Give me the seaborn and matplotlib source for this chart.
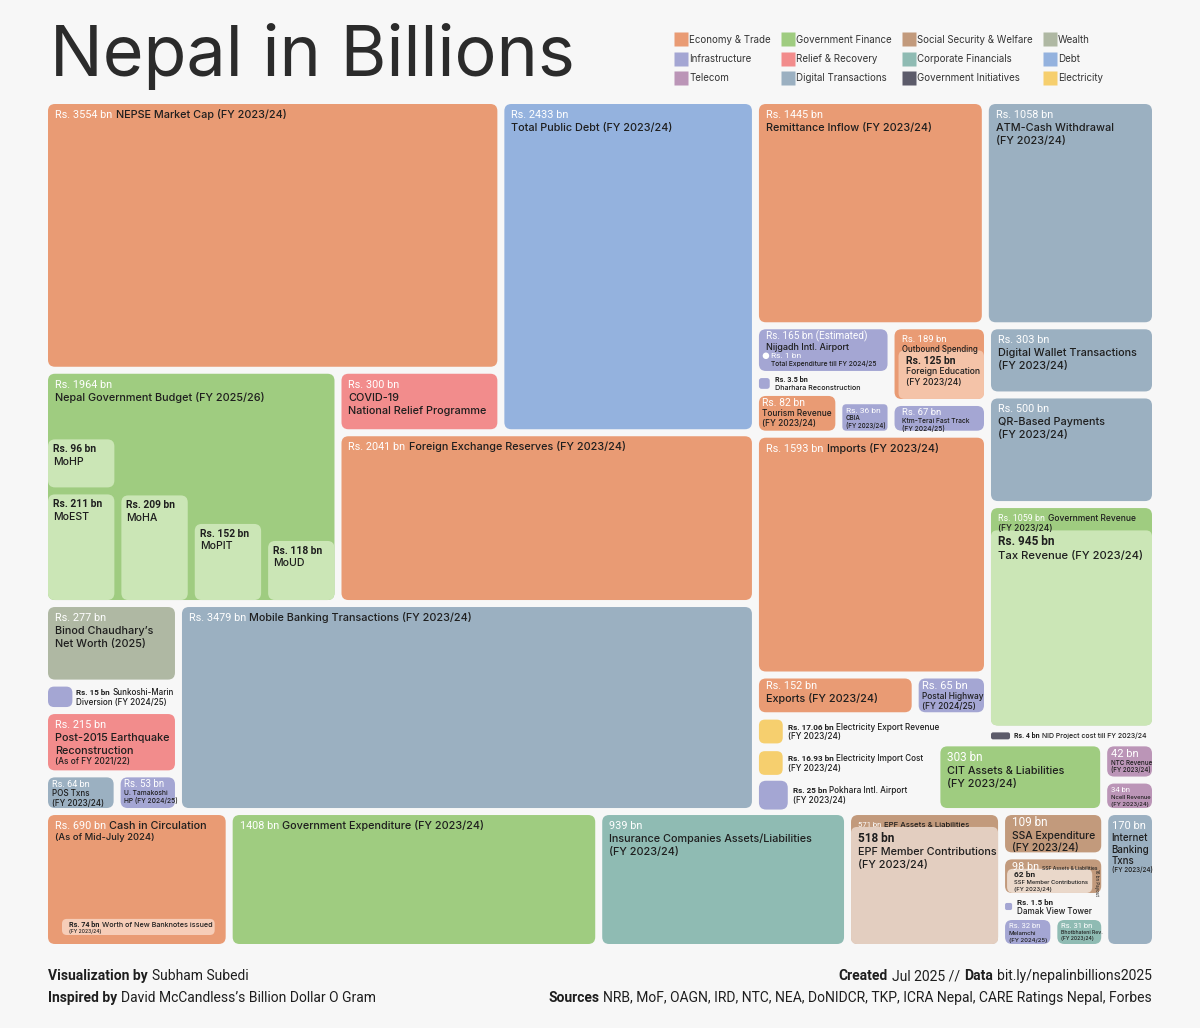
import numpy as np
import matplotlib
matplotlib.use("Agg")
import matplotlib.pyplot as plt
import seaborn as sns
from matplotlib.patches import FancyBboxPatch, Circle
from matplotlib.lines import Line2D

sns.set_theme(style="white")
plt.rcParams['font.family'] = ['Inter', 'DejaVu Sans']

# ---------------- data ----------------
categories = ["Economy & Trade", "Government Finance", "Social Security & Welfare", "Wealth",
              "Infrastructure", "Relief & Recovery", "Corporate Financials", "Debt",
              "Telecom", "Digital Transactions", "Government Initiatives", "Electricity"]

keys = ["nepse", "debt", "remit", "atm", "budget", "covid", "fx", "imports",
        "nijgadh", "outbound", "tourism", "cbia", "ktm", "dharhara",
        "wallet", "qr", "govrev", "nid", "binod", "sunkoshi", "post2015", "pos", "utama",
        "mobile", "exports", "postal", "elecexp", "elecimp", "pokhara", "cit", "ntc", "ncell",
        "cash", "govexp", "insurance", "epf", "ssa", "ssf", "damak", "melamchi", "bhot", "intbank"]
values = [3554, 2433, 1445, 1058, 1964, 300, 2041, 1593,
          165, 189, 82, 36, 67, 3.5,
          303, 500, 1059, 4, 277, 15, 215, 64, 53,
          3479, 152, 65, 17.06, 16.93, 25, 303, 42, 34,
          690, 1408, 939, 571, 109, 98, 1.5, 32, 31, 170]
value_labels = ["Rs. 3554 bn", "Rs. 2433 bn", "Rs. 1445 bn", "Rs. 1058 bn", "Rs. 1964 bn", "Rs. 300 bn",
                "Rs. 2041 bn", "Rs. 1593 bn",
                "Rs. 165 bn (Estimated)", "Rs. 189 bn", "Rs. 82 bn", "Rs. 36 bn", "Rs. 67 bn", "Rs. 3.5 bn",
                "Rs. 303 bn", "Rs. 500 bn", "Rs. 1059 bn", "Rs. 4 bn", "Rs. 277 bn", "Rs. 15 bn", "Rs. 215 bn",
                "Rs. 64 bn", "Rs. 53 bn",
                "Rs. 3479 bn", "Rs. 152 bn", "Rs. 65 bn", "Rs. 17.06 bn", "Rs. 16.93 bn", "Rs. 25 bn",
                "303 bn", "42 bn", "34 bn",
                "Rs. 690 bn", "1408 bn", "939 bn", "571 bn", "109 bn", "98 bn", "Rs. 1.5 bn", "Rs. 32 bn",
                "Rs. 31 bn", "170 bn"]
names = ["NEPSE Market Cap (FY 2023/24)", "Total Public Debt (FY 2023/24)", "Remittance Inflow (FY 2023/24)",
         "ATM-Cash Withdrawal\n(FY 2023/24)", "Nepal Government Budget (FY 2025/26)",
         "COVID-19\nNational Relief Programme",
         "Foreign Exchange Reserves (FY 2023/24)", "Imports (FY 2023/24)",
         "Nijgadh Intl. Airport", "Outbound Spending", "Tourism Revenue\n(FY 2023/24)", "CBIA\n(FY 2023/24)",
         "Ktm-Terai Fast Track\n(FY 2024/25)", "\nDharhara Reconstruction",
         "Digital Wallet Transactions\n(FY 2023/24)", "QR-Based Payments\n(FY 2023/24)",
         "Government Revenue\n(FY 2023/24)",
         "NID Project cost till FY 2023/24", "Binod Chaudhary\u2019s\nNet Worth (2025)",
         "Sunkoshi-Marin\nDiversion (FY 2024/25)",
         "Post-2015 Earthquake\nReconstruction\n(As of FY 2021/22)", "POS Txns\n(FY 2023/24)",
         "U. Tamakoshi\nHP (FY 2024/25)",
         "Mobile Banking Transactions (FY 2023/24)", "Exports (FY 2023/24)", "Postal Highway\n(FY 2024/25)",
         "Electricity Export Revenue\n(FY 2023/24)", "Electricity Import Cost\n(FY 2023/24)",
         "Pokhara Intl. Airport\n(FY 2023/24)",
         "CIT Assets & Liabilities\n(FY 2023/24)", "NTC Revenue\n(FY 2023/24)", "Ncell Revenue\n(FY 2023/24)",
         "Cash in Circulation\n(As of Mid-July 2024)", "Government Expenditure (FY 2023/24)",
         "Insurance Companies Assets/Liabilities\n(FY 2023/24)", "EPF Assets & Liabilities",
         "SSA Expenditure\n(FY 2023/24)",
         "SSF Assets & Liabilities", "\nDamak View Tower", "Melamchi\n(FY 2024/25)",
         "Bhotbhateni Rev.\n(FY 2023/24)",
         "Internet\nBanking\nTxns\n(FY 2023/24)"]
item_cats = [0, 7, 0, 9, 1, 5, 0, 0,
             4, 0, 0, 4, 4, 4,
             9, 9, 1, 10, 3, 4, 5, 9, 4,
             9, 0, 4, 11, 11, 4, 1, 8, 8,
             0, 1, 6, 2, 2, 2, 4, 4, 6, 9]

# nested items (drawn inside a parent)
sub_keys = ["tax", "foreign_ed", "epf_member", "ssf_member", "banknotes"]
sub_parents = ["govrev", "outbound", "epf", "ssf", "cash"]
sub_values = [945, 125, 518, 62, 74]
sub_value_labels = ["Rs. 945 bn", "Rs. 125 bn", "518 bn", "62 bn", "Rs. 74 bn"]
sub_names = ["Tax Revenue (FY 2023/24)", "Foreign Education\n(FY 2023/24)",
             "EPF Member Contributions\n(FY 2023/24)", "SSF Member Contributions\n(FY 2023/24)",
             "Worth of New Banknotes issued\n(FY 2023/24)"]

ministries = ["MoHP", "MoEST", "MoHA", "MoPIT", "MoUD"]
ministry_values = [96, 211, 209, 152, 118]
ministry_labels = ["Rs. 96 bn", "Rs. 211 bn", "Rs. 209 bn", "Rs. 152 bn", "Rs. 118 bn"]

nijgadh_spent = 1
ssf_payout = 16

# ---------------- style ----------------
cat_colors = ['#E99B74', '#9FCC80', '#C29A7C', '#AFB8A3', '#A4A6D3', '#F28C8C',
              '#8FBBB3', '#94B2DE', '#BB95B7', '#9BB0C1', '#5C5B6A', '#F6CF6E']
light = {'govrev': '#CBE6B6', 'budget': '#CBE6B6', 'outbound': '#F4C3A8', 'epf': '#E3CEC0',
         'ssf': '#EAD8CA', 'cash': '#F6CDB8'}
BG = '#F7F7F7'
INK = '#1e1e1e'
VALCOL = '#FFFFFF'
VALFAM = ['Roboto', 'DejaVu Sans']
NAMEFAM = ['Inter', 'DejaVu Sans']
NAMEWT = 'medium'
GAP = 7.0
PX = 100 / 72

INLINE = {'nepse', 'fx', 'imports', 'mobile', 'govexp', 'cash', 'govrev', 'epf', 'ssf', 'nid'}
NOTE_FROM = {'post2015': 2, 'cash': 1, 'intbank': 3}
NOTE_SIZE = {'post2015': 6, 'cash': 6.8, 'intbank': 4.6}
SIZES = {'cit': (8.5, 7.8), 'intbank': (8, 7), 'ssa': (8.5, 7.5), 'ssf': (7.8, 3.6), 'epf': (5.6, 5.6),
         'govrev': (6.4, 6.1), 'nijgadh': (7.2, 6.5), 'outbound': (6.8, 5.7), 'tourism': (7.5, 6.0),
         'cbia': (6, 4.5), 'ktm': (6.8, 4.8), 'postal': (8, 6), 'pos': (6.6, 5.8), 'utama': (7, 4.8),
         'ntc': (8, 4.5), 'ncell': (5.5, 4.2), 'melamchi': (5.5, 4.3), 'bhot': (5.5, 3.7),
         'elecexp': (5.9, 5.9), 'elecimp': (5.9, 5.9), 'pokhara': (5.9, 5.9), 'sunkoshi': (5.8, 5.8),
         'dharhara': (5.2, 5.2), 'damak': (5.8, 5.8), 'nid': (5, 5)}
SUB_SIZES = {'tax': (8.5, 8.1), 'foreign_ed': (7.5, 6.2), 'epf_member': (8.5, 7.8),
             'ssf_member': (6.0, 4.2), 'banknotes': (5.2, 5.2)}
SUB_PAD = {'tax': (0, 0, 0), 'foreign_ed': (4, 0, 0), 'epf_member': (0, 0, 0),
           'ssf_member': (2, 9, 0), 'banknotes': (14, 11, 9)}

val = dict(zip(keys, values))
vlab = dict(zip(keys, value_labels))
nm = dict(zip(keys, names))
cat = dict(zip(keys, item_cats))


# ---------------- layout ----------------
def leaf(k, extra=0.0, fit='fill'):
    return {'leaf': k, 'extra': extra, 'fit': fit}


def empty(w):
    return {'empty': True, 'extra': w}


def grp(kind, *kids, extra=0.0):
    return {'kind': kind, 'kids': [leaf(k) if isinstance(k, str) else k for k in kids], 'extra': extra}


def weight(n):
    if 'leaf' in n:
        return val[n['leaf']] + n['extra']
    if 'empty' in n:
        return n['extra']
    return sum(weight(c) for c in n['kids']) + n['extra']


def pinwheel(x0, y0, x1, y1, w):
    A = (x1 - x0) * (y1 - y0) * w / w.sum()
    a = np.linspace(x0 + 1, x1 - 1, 40001)
    with np.errstate(divide='ignore', invalid='ignore'):
        c = y0 + A[0] / (a - x0)
        d = y0 + A[1] / (x1 - a)
        b = x1 - A[2] / (y1 - d)
        res = (b - x0) * (y1 - c) - A[3]
    ok = (c > y0) & (c < d) & (d < y1) & (b > x0) & (b < a)
    i = np.argmin(np.where(ok, np.abs(res), np.inf))
    a, b, c, d = a[i], b[i], c[i], d[i]
    raw = [(x0, y0, a, c), (a, y0, x1, d), (b, d, x1, y1), (x0, c, b, y1), (b, c, a, d)]
    h = GAP / 2
    out = []
    for p, q, r, s in raw:
        out.append((p + (h if p > x0 + 1e-6 else 0), q + (h if q > y0 + 1e-6 else 0),
                    r - (h if r < x1 - 1e-6 else 0), s - (h if s < y1 - 1e-6 else 0)))
    return out


rects = {}


def place(n, x0, y0, x1, y1):
    if 'leaf' in n:
        rects[n['leaf']] = (x0, y0, x1, y1, n['fit'])
        return
    if 'empty' in n:
        return
    kids = n['kids']
    w = np.array([weight(c) for c in kids], dtype=float)
    if n['kind'] == 'pin':
        for c, r in zip(kids, pinwheel(x0, y0, x1, y1, w)):
            place(c, *r)
        return
    horiz = n['kind'] == 'h'
    L = (x1 - x0) if horiz else (y1 - y0)
    sizes = (L - GAP * (len(kids) - 1)) * w / w.sum()
    pos = x0 if horiz else y0
    for c, s in zip(kids, sizes):
        if horiz:
            place(c, pos, y0, pos + s, y1)
        else:
            place(c, x0, pos, x1, pos + s)
        pos += s + GAP


SMALL = grp('h',
            grp('v', 'nijgadh', leaf('dharhara', 40, 'mark'),
                grp('h', 'tourism', leaf('cbia', 12.5, 'bottom'), extra=7), extra=22),
            grp('v', 'outbound', 'ktm'), extra=67)
MID = grp('v', SMALL, 'imports', grp('h', 'exports', 'postal', extra=13), extra=63)
RIGHT = grp('v', 'wallet', 'qr', 'govrev', leaf('nid', 30, 'bar'), extra=89)
CITROW = grp('h', 'cit', grp('v', 'ntc', 'ncell', extra=9), extra=21)
ELEC = grp('v', leaf('elecexp', 140, 'mark'), leaf('elecimp', 140, 'mark'), leaf('pokhara', 140, 'mark'))
MR = grp('v', grp('h', 'remit', 'atm'), grp('pin', MID, RIGHT, CITROW, ELEC, empty(40)), extra=244)
UPPER = grp('pin', 'nepse', 'debt', 'fx', 'budget', 'covid', extra=206)
LCOL = grp('v', 'binod', leaf('sunkoshi', 63, 'bar'), 'post2015', grp('h', 'pos', 'utama'), extra=88)
LEFT = grp('v', UPPER, grp('h', LCOL, 'mobile'))
SSACOL = grp('v', 'ssa', 'ssf', leaf('damak', 36.5, 'mark'), grp('h', 'melamchi', 'bhot', extra=7), extra=58.5)
BOTTOM = grp('h', 'cash', 'govexp', 'insurance', 'epf', SSACOL, 'intbank', extra=60)
ROOT = grp('v', grp('h', LEFT, MR), BOTTOM)
place(ROOT, 48, 104, 1152, 944)

nx0, ny0, nx1, ny1, _ = rects['nepse']
K = (nx1 - nx0) * (ny1 - ny0) / val['nepse']   # px^2 per bn

# ---------------- drawing ----------------
fig = plt.figure(figsize=(12, 10.28), dpi=100)
fig.patch.set_facecolor(BG)
ax = fig.add_axes([0, 0, 1, 1])
ax.set_xlim(0, 1200)
ax.set_ylim(1028, 0)
ax.axis('off')
ax.set_facecolor(BG)
rend = fig.canvas.get_renderer()


def rbox(x0, y0, x1, y1, color, rad=7, z=2):
    r = min(rad, 0.3 * min(x1 - x0, y1 - y0))
    ax.add_patch(FancyBboxPatch((x0, y0), x1 - x0, y1 - y0,
                                boxstyle=f"round,pad=0,rounding_size={r}",
                                fc=color, ec='none', zorder=z))


def draw_rich(lines, x, ytop, ha='left', lh=1.2):
    y = ytop
    for i, line in enumerate(lines):
        m = max(p[1] for p in line) * PX
        y += 0.74 * m if i == 0 else lh * m
        objs = []
        for (s, size, col, wt, fam) in line:
            t = ax.text(0, y, s, fontsize=size, color=col, fontweight=wt, family=fam,
                        va='baseline', ha='left', zorder=6)
            objs.append((t, t.get_window_extent(rend).width, size))
        gaps = [0.3 * sz * PX for (_, _, sz) in objs]
        total = sum(o[1] for o in objs) + sum(gaps[:-1])
        cx = x - total if ha == 'right' else x
        for j, (t, wd, sz) in enumerate(objs):
            t.set_x(cx)
            cx += wd + gaps[j]
    return y


def box_label(vtxt, ntxt, x0, y0, x1, y1, sizes, inline, vcol=VALCOL, vwt='normal',
              note_from=99, note_size=None):
    vs, ns = sizes
    padx = 7 if (x1 - x0) > 80 else 3.5
    pady = 6 if (y1 - y0) > 45 else 2.5
    nl = ntxt.split('\n')

    def npart(i, t):
        sz = (note_size or ns * 0.75) if i >= note_from else ns
        return (t, sz, INK, NAMEWT, NAMEFAM)
    vpart = (vtxt, vs, vcol, vwt, VALFAM)
    if inline:
        lines = [[vpart, npart(0, nl[0])]] + [[npart(i + 1, t)] for i, t in enumerate(nl[1:])]
    else:
        lines = [[vpart]] + [[npart(i, t)] for i, t in enumerate(nl)]
    draw_rich(lines, x0 + padx, y0 + pady)


def mark_label(k, x, yc):
    vs, ns = SIZES[k]
    nl = nm[k].split('\n')
    first = [(vlab[k], vs, INK, 'bold', VALFAM)]
    if nl[0]:
        first.append((nl[0], ns, INK, NAMEWT, NAMEFAM))
    lines = [first] + [[(t, ns, INK, NAMEWT, NAMEFAM)] for t in nl[1:]]
    m = ns * PX
    h = 0.74 * m + (len(lines) - 1) * 1.2 * m
    draw_rich(lines, x, yc - h / 2)


for k, (x0, y0, x1, y1, fit) in rects.items():
    col = cat_colors[cat[k]]
    v = val[k]
    yc = (y0 + y1) / 2
    if fit == 'fill':
        rbox(x0, y0, x1, y1, col)
        box_label(vlab[k], nm[k], x0, y0, x1, y1, SIZES.get(k, (7.8, 7.8)), k in INLINE,
                  note_from=NOTE_FROM.get(k, 99), note_size=NOTE_SIZE.get(k))
    elif fit == 'bottom':
        h = K * v / (x1 - x0)
        rbox(x0, y1 - h, x1, y1, col, rad=4)
        box_label(vlab[k], nm[k], x0, y1 - h, x1, y1, SIZES.get(k, (7.8, 7.8)), k in INLINE)
    elif fit == 'mark':
        s = np.sqrt(K * v)
        rbox(x0, yc - s / 2, x0 + s, yc + s / 2, col, rad=max(1.5, 0.25 * s))
        mark_label(k, x0 + s + 5, yc)
    elif fit == 'bar':
        h = y1 - y0
        w = K * v / h
        rbox(x0, y0, x0 + w, y1, col, rad=0.45 * h)
        mark_label(k, x0 + w + 4, yc)

# nested sub-items
for sk, par, sv, slab, snm in zip(sub_keys, sub_parents, sub_values, sub_value_labels, sub_names):
    px0, py0, px1, py1, _ = rects[par]
    l, r, b = SUB_PAD[sk]
    x0, x1 = px0 + l, px1 - r
    h = K * sv / (x1 - x0)
    y1 = py1 - b
    rbox(x0, y1 - h, x1, y1, light[par], rad=6, z=3)
    box_label(slab, snm, x0, y1 - h, x1, y1, SUB_SIZES[sk], sk == 'banknotes',
              vcol=INK, vwt='bold', note_from=1 if sk == 'banknotes' else 99, note_size=3.6)

# ministries inside the budget box
bx0, by0, bx1, by1, _ = rects['budget']
cw = (bx1 - bx0 - 3 * GAP) / 4
tops = {}
for i, (mn, mv, ml) in enumerate(zip(ministries[1:], ministry_values[1:], ministry_labels[1:])):
    x0 = bx0 + i * (cw + GAP)
    h = K * mv / cw
    rbox(x0, by1 - h, x0 + cw, by1, light['budget'], rad=7, z=3)
    draw_rich([[(ml, 7.4, INK, 'bold', VALFAM)], [(mn, 7.6, INK, NAMEWT, NAMEFAM)]], x0 + 5, by1 - h + 5)
    tops[mn] = by1 - h
hb = tops['MoEST'] - GAP
h = K * ministry_values[0] / cw
rbox(bx0, hb - h, bx0 + cw, hb, light['budget'], rad=7, z=3)
draw_rich([[(ministry_labels[0], 7.4, INK, 'bold', VALFAM)], [(ministries[0], 7.6, INK, NAMEWT, NAMEFAM)]],
          bx0 + 5, hb - h + 5)

# Nijgadh spent so far
gx0, gy0, gx1, gy1, _ = rects['nijgadh']
ax.add_patch(Circle((gx0 + 7, gy0 + 26.5), np.sqrt(K * nijgadh_spent / np.pi), fc='white', ec='none', zorder=5))
draw_rich([[("Rs. %d bn" % nijgadh_spent, 6, VALCOL, 'normal', VALFAM)],
           [("Total Expenditure till FY 2024/25", 4.8, INK, NAMEWT, NAMEFAM)]], gx0 + 12, gy0 + 22.5)

# SSF payout note
sx0, sy0, sx1, sy1, _ = rects['ssf']
ax.text(sx1 - 4.5, sy0 + (sy1 - sy0) * 0.68, "%d bn Payout" % ssf_payout, rotation=270, fontsize=3.2,
        color=INK, family=NAMEFAM, ha='center', va='center', zorder=6)

# title
ax.text(50, 76, "Nepal in Billions", fontsize=50.5, color='#2b2b2b', family=NAMEFAM, va='baseline', ha='left')

# legend
order = [0, 4, 8, 1, 5, 9, 2, 6, 10, 3, 7, 11]
handles = [Line2D([], [], marker='s', ls='', markersize=9.4, markerfacecolor=cat_colors[i],
                  markeredgecolor='none', label=categories[i]) for i in order]
ax.legend(handles=handles, loc='upper left', bbox_to_anchor=(668 / 1200, 1 - 26 / 1028), ncol=4,
          frameon=False, handlelength=0.9, handletextpad=0.4, columnspacing=1.3, labelspacing=0.95,
          prop={'family': NAMEFAM, 'size': 7}, labelcolor='#333333')

# footer
F = 10
draw_rich([[("Visualization by", F, INK, 'bold', VALFAM), ("Subham Subedi", F, INK, 'normal', VALFAM)]], 48, 970)
draw_rich([[("Inspired by", F, INK, 'bold', VALFAM),
            ("David McCandless\u2019s Billion Dollar O Gram", F, INK, 'normal', VALFAM)]], 48, 992)
draw_rich([[("Created", F, INK, 'bold', VALFAM), ("Jul 2025 //", F, INK, 'normal', VALFAM),
            ("Data", F, INK, 'bold', VALFAM), ("bit.ly/nepalinbillions2025", F, INK, 'normal', VALFAM)]],
          1152, 970, ha='right')
draw_rich([[("Sources", F, INK, 'bold', VALFAM),
            ("NRB, MoF, OAGN, IRD, NTC, NEA, DoNIDCR, TKP, ICRA Nepal, CARE Ratings Nepal, Forbes",
             F, INK, 'normal', VALFAM)]], 1152, 992, ha='right')

fig.savefig('out.png', dpi=100, facecolor=BG)
